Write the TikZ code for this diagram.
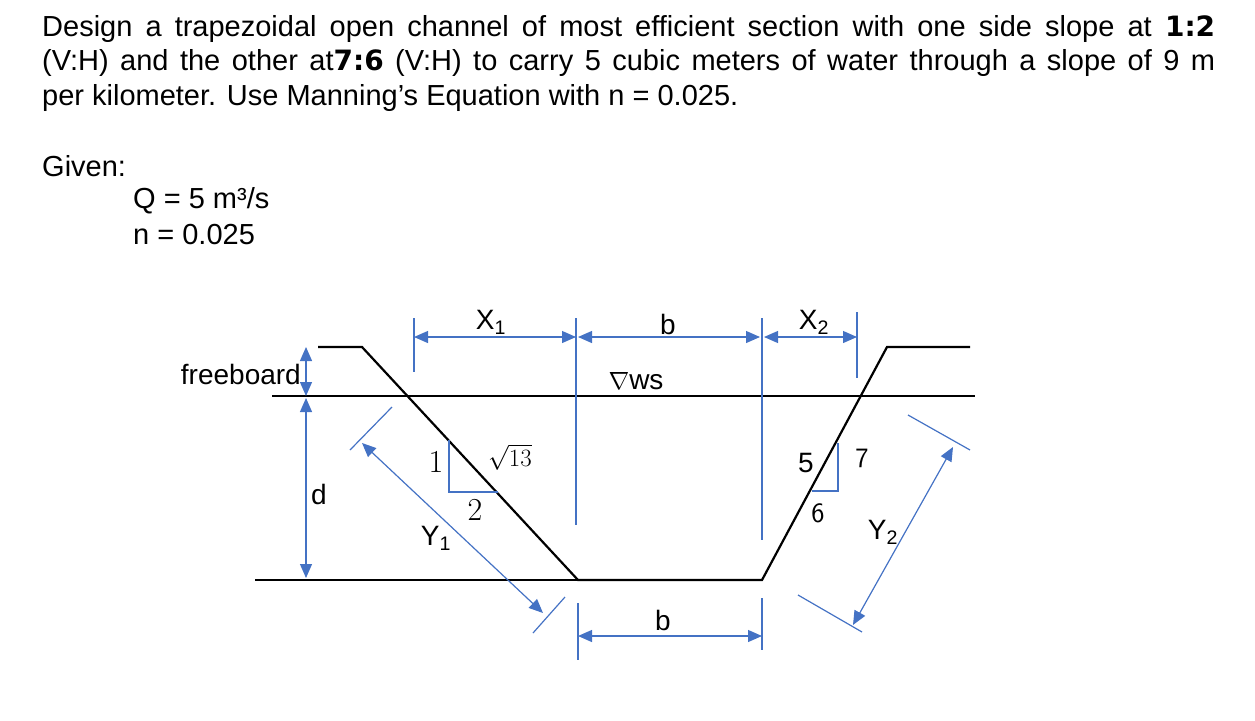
\documentclass[tikz,border=0pt]{standalone}
\usepackage{fontspec}
\setmainfont{Liberation Sans}
\newfontfamily\boldfam{DejaVu Sans}
\usetikzlibrary{arrows.meta}
\definecolor{dimblue}{RGB}{68,114,196}
\begin{document}
\begin{tikzpicture}[x=1pt,y=-1pt,
  txt/.style={anchor=base west,inner sep=0pt,font=\fontsize{29}{32}\selectfont},
  lbl/.style={inner sep=0pt,font=\fontsize{28}{30}\selectfont},
  bank/.style={line width=2.2pt,black},
  thin/.style={line width=1.2pt,black},
  dim/.style={dimblue,line width=1.2pt},
  dimarr/.style={dimblue,line width=1.2pt,{Triangle[length=14pt,width=12pt]}-{Triangle[length=14pt,width=12pt]}}]
\useasboundingbox (0,0) rectangle (1255,720);
% text
\node[txt] (l1) at (42,36) {\makebox[1173pt][s]{Design a trapezoidal open channel of most efficient section with one side slope at {\boldfam\bfseries\fontsize{28}{28}\selectfont 1:2}}};
\node[txt] (l2) at (42,70) {\makebox[1173pt][s]{(V:H) and the other at{\boldfam\bfseries\fontsize{28}{28}\selectfont 7:6} (V:H) to carry 5 cubic meters of water through a slope of 9 m}};
\node[txt] (l3) at (42,105) {per kilometer. Use Manning’s Equation with n = 0.025.};
\node[txt] (g) at (42,176) {Given:};
\node[txt] (q) at (133,208) {Q = 5 m³/s};
\node[txt] (n) at (133,244) {n = 0.025};
% channel
\draw[bank] (318,347) -- (362,347) -- (578,580) -- (762,580) -- (887,347) -- (970,347);
\draw[thin] (272,396) -- (975,396);
\draw[thin] (255,580) -- (578,580);
% freeboard & d
\draw[dimarr] (306,347) -- (306,396);
\draw[dimarr] (306,398) -- (306,578);
\node[lbl,anchor=east] (fb) at (301,374) {freeboard};
\node[lbl] (d) at (319,494) {d};
% top dims
\draw[dim] (414,318) -- (414,372);
\draw[dim] (576,318) -- (576,525);
\draw[dim] (762,318) -- (762,540);
\draw[dim] (857,312) -- (857,378);
\draw[dimarr] (414,337) -- (576,337);
\draw[dimarr] (578,337) -- (760,337);
\draw[dimarr] (764,337) -- (857,337);
\node[lbl] (x1) at (491,322) {X\textsubscript{1}};
\node[lbl] (b1) at (668,324) {b};
\node[lbl] (x2) at (814,322) {X\textsubscript{2}};
\node[lbl] (ws) at (636,381) {$\nabla$ws};
% Y1
\draw[dim] (350,450) -- (392,407);
\draw[dim] (533,633) -- (565,597);
\draw[dimarr] (362,443) -- (543,613);
\node[lbl] (y1) at (436,538) {Y\textsubscript{1}};
\draw[dim] (449,440) -- (449,492) -- (498,492);
\node[lbl] (one) at (436,462) {\fontfamily{lmr}\fontsize{32}{34}\selectfont 1};
\node[lbl] (s13) at (510,457) {\fontsize{32}{34}\selectfont$\sqrt{13}$};
\node[lbl] (two) at (475,510) {\fontfamily{lmr}\fontsize{32}{34}\selectfont 2};
% Y2
\draw[dim] (908,415) -- (970,450);
\draw[dim] (798,595) -- (862,632);
\draw[dimarr] (953,447) -- (853,625);
\node[lbl] (y2) at (883,532) {Y\textsubscript{2}};
\draw[dim] (838,443) -- (838,491) -- (812,491);
\node[lbl] (five) at (806,463) {5};
\node[lbl] (seven) at (862,458) {\fontfamily{lmss}\selectfont 7};
\node[lbl] (six) at (818,513) {\fontfamily{lmss}\selectfont 6};
% bottom b
\draw[dim] (578,603) -- (578,660);
\draw[dim] (762,598) -- (762,650);
\draw[dimarr] (578,636) -- (762,636);
\node[lbl] (b2) at (663,620) {b};
\end{tikzpicture}
\end{document}
